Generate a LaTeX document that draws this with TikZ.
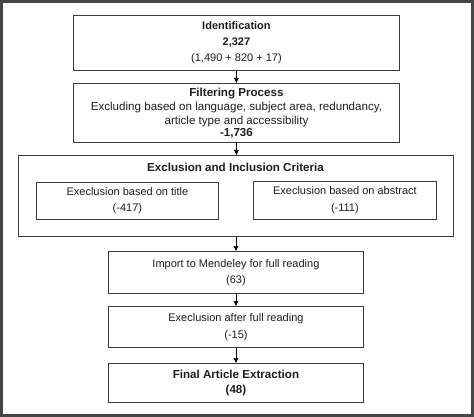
\documentclass[tikz,border=0pt]{standalone}
\usepackage{fontspec}
\setmainfont{Liberation Sans}
\usetikzlibrary{arrows.meta}
\definecolor{frame}{HTML}{454545}
\definecolor{boxline}{HTML}{3A3A3A}
\definecolor{txt}{HTML}{1E1E1E}
\begin{document}
\begin{tikzpicture}[x=1pt,y=-1pt,
  box/.style={draw=boxline,line width=0.9pt,anchor=north west,inner sep=0pt,align=center,text=txt,font=\fontsize{11}{16.5}\selectfont},
  arr/.style={draw=black,line width=0.7pt,-{Triangle[length=5pt,width=4.5pt]}}]
\useasboundingbox (0,0) rectangle (474,417);
\fill[white] (0,0) rectangle (474,417);
\draw[frame,line width=3pt] (1.5,1.5) rectangle (472.5,415.5);
% Identification
\node[box,minimum width=326pt,minimum height=55pt,font=\fontsize{11}{16}\selectfont] (id) at (73,15)
  {\textbf{Identification}\\\textbf{2,327}\\(1,490 + 820 + 17)};
% Filtering
\node[box,minimum width=326pt,minimum height=59pt,font=\fontsize{11.6}{14}\selectfont] (fp) at (73,83)
  {\textbf{Filtering Process}\\Excluding based on language, subject area, redundancy,\\article type and accessibility\\[-2pt]\textbf{-1,736}};
% Exclusion and inclusion outer
\node[box,minimum width=435pt,minimum height=81pt] (ec) at (18,155) {};
\node[text=txt,font=\fontsize{11.6}{14}\selectfont\bfseries,anchor=center] (ect) at (235.5,167) {Exclusion and Inclusion Criteria};
\node[box,minimum width=182pt,minimum height=37pt,line width=0.8pt] (et) at (36,182)
  {Execlusion based on title\\(-417)};
\node[box,minimum width=183pt,minimum height=38pt,line width=0.8pt] (ea) at (253,181)
  {Execlusion based on abstract\\(-111)};
% Import
\node[box,minimum width=255pt,minimum height=42pt] (im) at (108,251)
  {Import to Mendeley for full reading\\(63)};
% Exclusion after
\node[box,minimum width=255pt,minimum height=41pt] (ex) at (108,306)
  {Execlusion after full reading\\(-15)};
% Final
\node[box,minimum width=255pt,minimum height=39pt,font=\fontsize{11.6}{15}\selectfont] (fin) at (108,363)
  {\textbf{Final Article Extraction}\\\textbf{(48)}};
% arrows
\draw[arr] (id.south) -- (fp.north);
\draw[arr] (fp.south) -- (fp.south |- ec.north);
\draw[arr] (ec.south -| im.north) -- (im.north);
\draw[arr] (im.south) -- (ex.north);
\draw[arr] (ex.south) -- (fin.north);
\end{tikzpicture}
\end{document}
